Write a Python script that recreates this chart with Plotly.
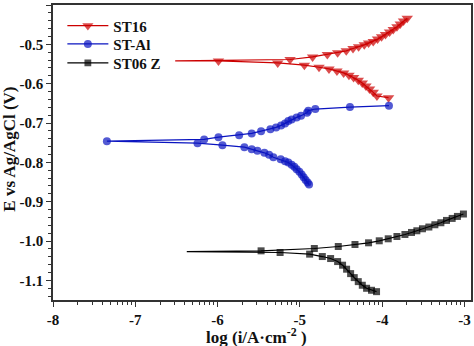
import math
import plotly.graph_objects as go

# Potentiodynamic polarization data: log current density vs potential.
# Each curve runs from the end of the cathodic branch, through Ecorr, to the end of the anodic branch.
st16_logi = [-3.922, -4.063, -4.108, -4.153, -4.197, -4.241, -4.290, -4.347, -4.403, -4.468,
             -4.549, -4.646, -4.767, -4.945, -5.269, -5.989, -6.515,
             -5.119, -4.845, -4.666, -4.541, -4.436, -4.354, -4.286, -4.217, -4.165,
             -4.108, -4.056, -4.007, -3.959, -3.910, -3.865, -3.820, -3.780, -3.740, -3.695]
st16_E = [-0.6355, -0.6314, -0.6220, -0.6135, -0.6059, -0.5982, -0.5913, -0.5844, -0.5786, -0.5727,
          -0.5676, -0.5625, -0.5582, -0.5531, -0.5472, -0.5421, -0.5421,
          -0.5385, -0.5319, -0.5258, -0.5217, -0.5166, -0.5105, -0.5064, -0.5013, -0.4969,
          -0.4926, -0.4867, -0.4809, -0.4747, -0.4689, -0.4620, -0.4554, -0.4485, -0.4408, -0.4339]

stal_logi = [-4.888, -4.905, -4.930, -4.954, -4.978, -5.006, -5.039, -5.067, -5.100, -5.140,
             -5.180, -5.233, -5.322, -5.374, -5.431, -5.516, -5.585, -5.674, -5.941, -6.244,
             -7.345,
             -6.163, -5.989, -5.738, -5.585, -5.471, -5.358, -5.289, -5.228, -5.180, -5.140,
             -5.100, -5.039, -4.985, -4.913, -4.897, -4.812, -4.391, -3.917]
stal_E = [-0.8566, -0.8515, -0.8446, -0.8380, -0.8311, -0.8242, -0.8176, -0.8115, -0.8064, -0.8005,
          -0.7974, -0.7923, -0.7872, -0.7809, -0.7758, -0.7707, -0.7666, -0.7615, -0.7564, -0.7513,
          -0.7462,
          -0.7418, -0.7360, -0.7309, -0.7265, -0.7207, -0.7156, -0.7112, -0.7061, -0.7010, -0.6952,
          -0.6908, -0.6857, -0.6814, -0.6737, -0.6686, -0.6645, -0.6594, -0.6559]

st06z_logi = [-4.068, -4.129, -4.189, -4.241, -4.290, -4.339, -4.383, -4.432, -4.481, -4.541,
              -4.626, -4.727, -4.881, -5.240, -6.374, -5.471,
              -4.824, -4.533, -4.330, -4.165, -4.035, -3.926, -3.820, -3.723, -3.643,
              -3.578, -3.510, -3.432, -3.359, -3.286, -3.218, -3.149, -3.085, -3.012]
st06z_E = [-1.1288, -1.1253, -1.1202, -1.1125, -1.1033, -1.0931, -1.0829, -1.0717, -1.0615, -1.0523,
           -1.0446, -1.0395, -1.0334, -1.0293, -1.0268, -1.0250,
           -1.0191, -1.0140, -1.0089, -1.0046, -0.9995, -0.9944, -0.9885, -0.9834, -0.9783,
           -0.9740, -0.9689, -0.9645, -0.9587, -0.9536, -0.9477, -0.9426, -0.9375, -0.9314]

x_ticks = [-8, -7, -6, -5, -4, -3]
x_ticktext = ["-8", "-7", "-6", "-5", "-4", "-3"]
y_ticks = [-0.4, -0.5, -0.6, -0.7, -0.8, -0.9, -1.0, -1.1]
y_ticktext = ["-0.4", "-0.5", "-0.6", "-0.7", "-0.8", "-0.9", "-1.0", "-1.1"]

FONT = "Liberation Serif"
INK = "#111111"


def bold(labels):
    return ["<b>%s</b>" % t for t in labels]


def sizes(logi, size, bare_index=None):
    # the low-current extension point at Ecorr is drawn without a symbol
    return [0 if i == bare_index else size for i in range(len(logi))]


fig = go.Figure()

fig.add_trace(go.Scatter(
    x=st16_logi, y=st16_E, name="<b>ST16</b>", mode="lines+markers", legend="legend",
    line=dict(color="#CC0000", width=1.2),
    marker=dict(symbol="triangle-down", color="#CC0000",
                size=sizes(st16_logi, 10, st16_logi.index(min(st16_logi))),
                line=dict(width=0)),
))
fig.add_trace(go.Scatter(
    x=stal_logi, y=stal_E, name="<b>ST-Al</b>", mode="lines+markers", legend="legend2",
    line=dict(color="#0A14C0", width=1.2),
    marker=dict(symbol="circle", color="#0A14C0", size=sizes(stal_logi, 8),
                line=dict(width=0)),
))
fig.add_trace(go.Scatter(
    x=st06z_logi, y=st06z_E, name="<b>ST06 Z</b>", mode="lines+markers", legend="legend3",
    line=dict(color="#000000", width=1.2),
    marker=dict(symbol="square", color="#000000",
                size=sizes(st06z_logi, 7, st06z_logi.index(min(st06z_logi))),
                line=dict(width=0)),
))

# logarithmic minor ticks inside every decade
x_minor = [d + math.log10(k) for d in range(-8, -3) for k in range(2, 10)]

axis_common = dict(
    showgrid=False, zeroline=False, showline=True, mirror=True,
    linecolor="#333333", linewidth=1.5,
    ticks="outside", ticklen=5, tickwidth=1.2, tickcolor="#333333",
    tickfont=dict(family=FONT, size=15, color=INK),
)

legend_common = dict(xanchor="left", yanchor="top", bgcolor="rgba(0,0,0,0)",
                     borderwidth=0, itemwidth=41,
                     font=dict(family=FONT, size=15, color=INK))

fig.update_layout(
    width=474, height=346,
    margin=dict(l=53, r=1, t=5, b=46),
    paper_bgcolor="white", plot_bgcolor="white",
    font=dict(family=FONT, color=INK),
    xaxis=dict(range=[-8, -2.92], tickmode="array", tickvals=x_ticks, ticktext=bold(x_ticktext),
               minor=dict(tickmode="array", tickvals=x_minor, ticks="outside",
                          ticklen=3, tickwidth=1, tickcolor="#333333"),
               **axis_common),
    yaxis=dict(range=[-1.15, -0.4], tickmode="array", tickvals=y_ticks, ticktext=bold(y_ticktext),
               minor=dict(dtick=0.02, tick0=-0.4, ticks="outside",
                          ticklen=3, tickwidth=1, tickcolor="#333333"),
               **axis_common),
    legend=dict(x=0.0224, y=0.985, **legend_common),
    legend2=dict(x=0.0224, y=0.923, **legend_common),
    legend3=dict(x=0.0224, y=0.8586, **legend_common),
    showlegend=True,
)

fig.add_annotation(text="<b>log (i/A·cm<sup>-2</sup> )</b>", xref="paper", yref="paper",
                   x=0.488, y=-0.122, xanchor="center", yanchor="middle", showarrow=False,
                   font=dict(family=FONT, size=17, color=INK))
fig.add_annotation(text="<b>E vs Ag/AgCl (V)</b>", xref="paper", yref="paper",
                   x=-0.105, y=0.51, xanchor="center", yanchor="middle", showarrow=False,
                   textangle=-90, font=dict(family=FONT, size=17, color=INK))

fig.write_html("out.html")
